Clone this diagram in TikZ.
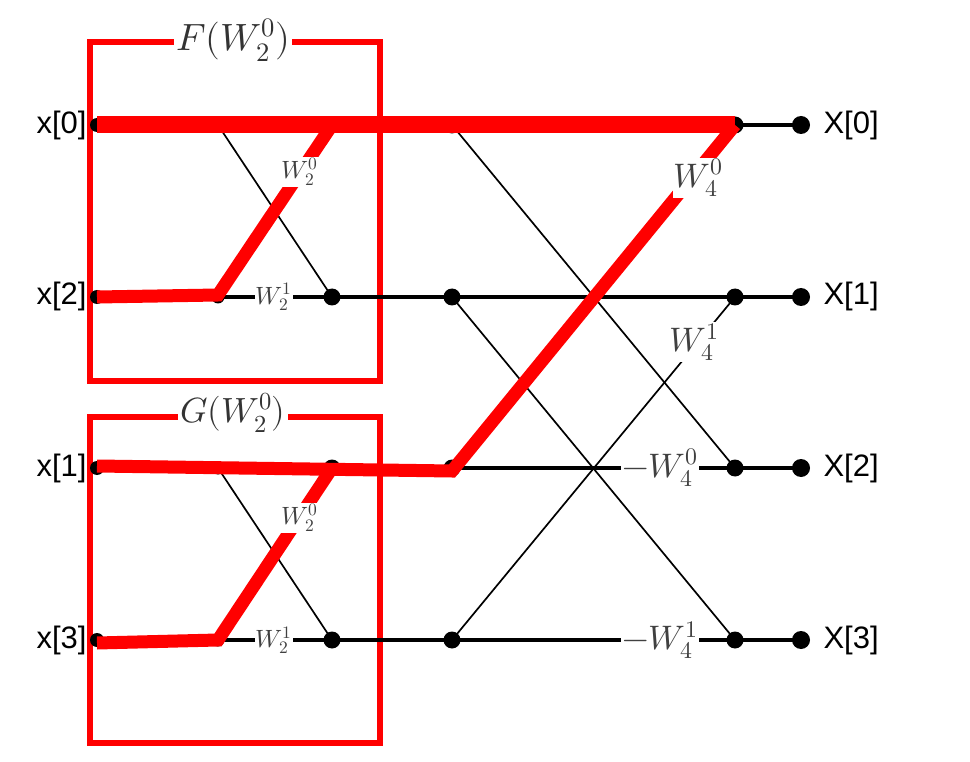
\documentclass[tikz,border=0pt]{standalone}
\usepackage{fontspec}
\setmainfont{Liberation Sans}
\usepackage{unicode-math}
\setmathfont{Latin Modern Math}
\begin{document}
\begin{tikzpicture}[x=1pt,y=-1pt,
  dot/.style={circle,fill=black,inner sep=0pt,minimum size=#1},
  dot/.default=12pt,
  h/.style={line width=3.2pt},
  d/.style={line width=1.7pt},
  red path/.style={draw=red,line width=#1},
  box/.style={draw=red,line width=5.5pt},
  lab/.style={fill=white,inner sep=1pt,text=black!75,font=\fontsize{25}{27}\selectfont},
  biglab/.style={lab,font=\fontsize{34}{36}\selectfont},
  io/.style={font=\fontsize{31}{34}\selectfont}]
\useasboundingbox (0,0) rectangle (970,762);
% boxes
\draw[box] (90,42) rectangle (380,381);
\draw[box] (90,417) rectangle (380,743);
\node[fill=white,inner sep=2pt,text=black!80,font=\fontsize{38}{40}\selectfont] (F) at (233,40) {$F(W_2^0)$};
\node[fill=white,inner sep=2pt,text=black!80,font=\fontsize{35}{37}\selectfont] (G) at (233,413) {$G(W_2^0)$};
% nodes
\foreach \r/\y in {0/125,1/297,2/468,3/640}{
  \node[dot=14pt] (a\r) at (97,\y) {};
  \node[dot=13pt] (b\r) at (218,\y) {};
  \node[dot=17pt] (c\r) at (332,\y) {};
  \node[dot=17pt] (d\r) at (452,\y) {};
  \node[dot=17pt] (e\r) at (735,\y) {};
  \node[dot=18pt] (f\r) at (801,\y) {};
}
\foreach \r/\i in {0/0,1/2,2/1,3/3}{
  \node[io,anchor=east] (in\r) at (90,125+\r*171.7) {x[\i]};
}
\foreach \r in {0,1,2,3}{
  \node[io,anchor=west] (out\r) at (820,125+\r*171.7) {X[\r]};
  \draw[h] (a\r.center) -- (f\r.center);
}
% stage 1 diagonals
\draw[d] (b0.center) -- (c1.center);
\draw[d] (b2.center) -- (c3.center);
% stage 2 diagonals
\draw[d] (d0.center) -- (e2.center);
\draw[d] (d1.center) -- (e3.center);
\draw[d] (d3.center) -- (e1.center);
% red paths
\draw[red path=17pt] (a0.center) -- (e0.center);
\draw[red path=13pt,line join=miter] (a1.center) -- ([yshift=2pt]b1.center) -- (c0.center);
\draw[red path=13pt,line join=miter] ([yshift=2pt]a2.center) -- ([yshift=-3pt]d2.center) -- (e0.center);
\draw[red path=13pt,line join=miter] ([yshift=-3pt]a3.center) -- (b3.center) -- (c2.center);
% labels
\node[lab] (l1) at (300,172) {$W_2^0$};
\node[lab] (l2) at (274,297) {$W_2^1$};
\node[lab] (l3) at (300,518) {$W_2^0$};
\node[lab] (l4) at (274,640) {$W_2^1$};
\node[biglab] (l5) at (698,178) {$W_4^0$};
\node[biglab] (l6) at (694,342) {$W_4^1$};
\node[biglab] (l7) at (660,468) {$-W_4^0$};
\node[biglab] (l8) at (660,640) {$-W_4^1$};
\end{tikzpicture}
\end{document}
